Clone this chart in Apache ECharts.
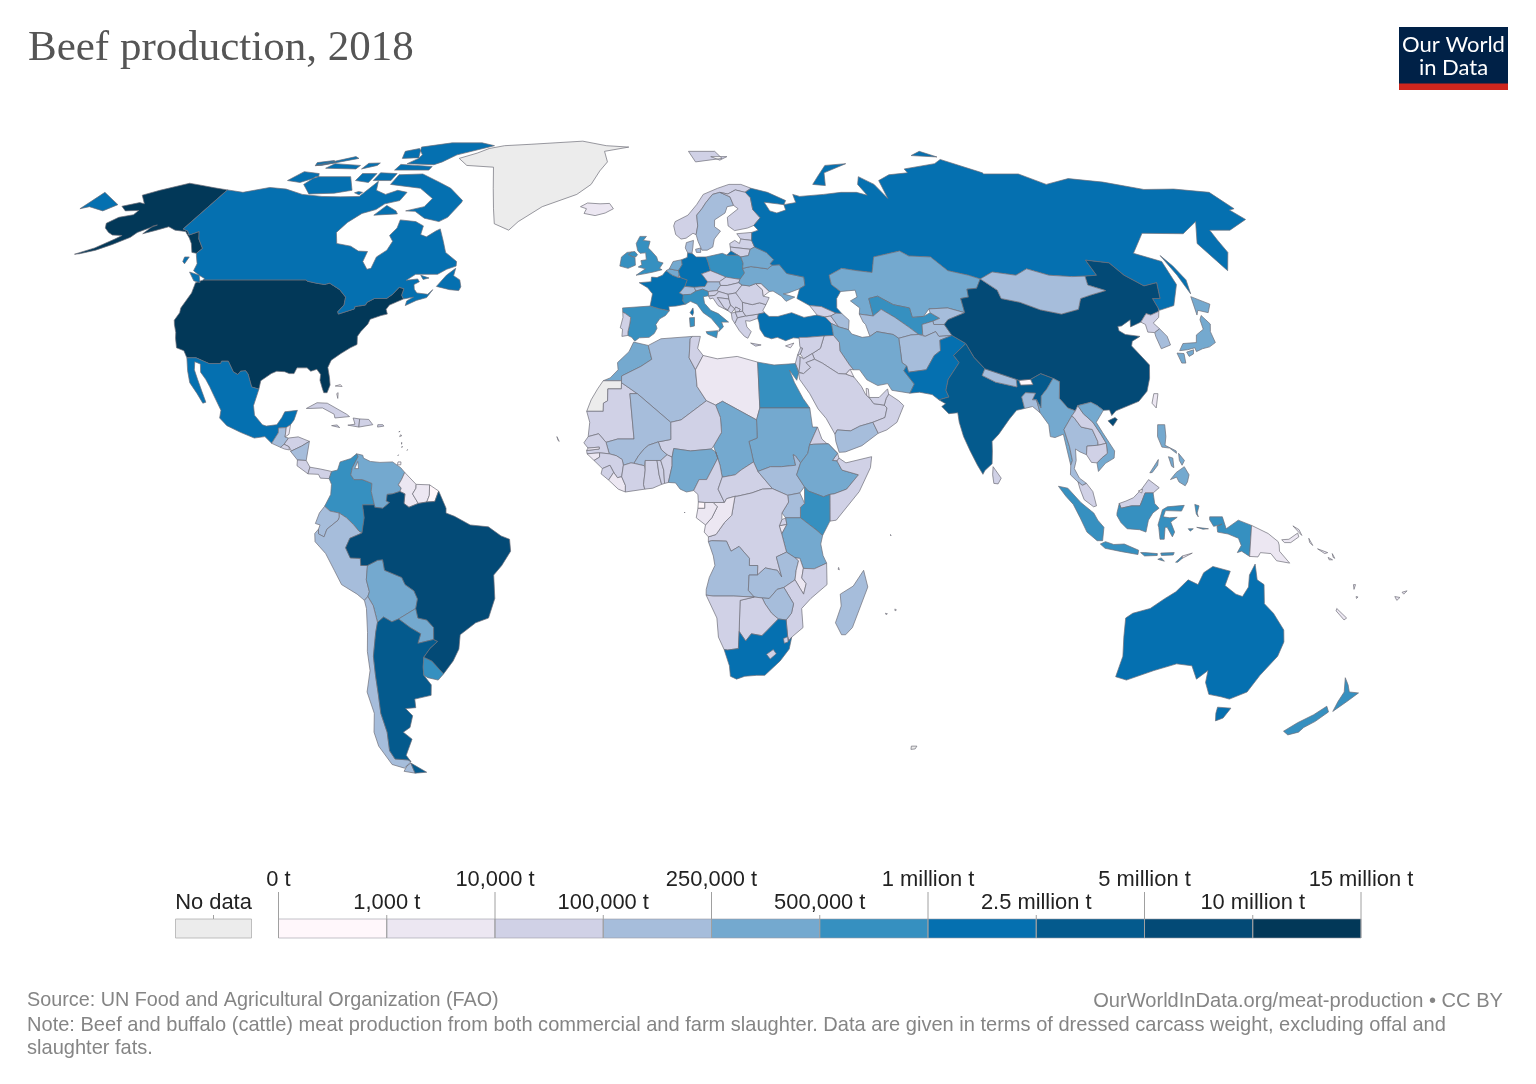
<!DOCTYPE html>
<html>
<head>
<meta charset="utf-8">
<title>Beef production, 2018</title>
<script src="https://cdn.jsdelivr.net/npm/echarts@6/dist/echarts.min.js"></script>
<style>
html, body { margin: 0; padding: 0; background: #fff; }
#main { width: 1536px; height: 1084px; }
</style>
</head>
<body>
<div id="main"></div>
<script>
// legend bins
const binEdges = [0, 1000, 10000, 100000, 250000, 500000, 1000000, 2500000, 5000000, 10000000, 15000000];
const binLabels = ['0 t', '1,000 t', '10,000 t', '100,000 t', '250,000 t', '500,000 t', '1 million t', '2.5 million t', '5 million t', '10 million t', '15 million t'];
const binColors = ['#fff7fb', '#ece7f2', '#d0d1e6', '#a6bddb', '#74a9cf', '#3690c0', '#0570b0', '#045a8d', '#034a76', '#023858'];

// tonnes per country
const americasNames = ['United States', 'Canada', 'Mexico', 'Guatemala', 'Belize', 'Honduras', 'El Salvador', 'Nicaragua', 'Costa Rica', 'Panama', 'Cuba', 'Haiti', 'Dominican Republic', 'Jamaica', 'Puerto Rico', 'Bahamas', 'Trinidad and Tobago', 'Lesser Antilles', 'Colombia', 'Venezuela', 'Guyana', 'Suriname', 'French Guiana', 'Ecuador', 'Peru', 'Bolivia', 'Paraguay', 'Chile', 'Argentina', 'Uruguay', 'Brazil'];
const americasTonnes = [12219000, 1300000, 1980000, 150000, 4000, 70000, 30000, 170000, 80000, 70000, 60000, 45000, 75000, 14000, 12000, 100, 700, 500, 790000, 460000, 2000, 2000, 300, 220000, 195000, 270000, 290000, 200000, 3050000, 550000, 9900000];

const europeNames = ['Iceland', 'Svalbard', 'Norway', 'Sweden', 'Finland', 'Denmark', 'Estonia', 'Latvia', 'Lithuania', 'Belarus', 'Ukraine', 'Moldova', 'Poland', 'Germany', 'Netherlands', 'Belgium', 'Luxembourg', 'France', 'United Kingdom', 'Ireland', 'Spain', 'Portugal', 'Italy', 'Switzerland', 'Austria', 'Czechia', 'Slovakia', 'Hungary', 'Slovenia', 'Croatia', 'Bosnia and Herzegovina', 'Serbia', 'Montenegro', 'Kosovo', 'Albania', 'North Macedonia', 'Greece', 'Bulgaria', 'Romania', 'Cyprus', 'Russia'];
const europeTonnes = [5000, 20000, 85000, 135000, 86000, 125000, 10000, 16000, 42000, 300000, 360000, 8000, 560000, 1100000, 440000, 270000, 10000, 1430000, 900000, 620000, 670000, 90000, 800000, 145000, 226000, 70000, 10000, 30000, 35000, 45000, 25000, 80000, 14000, 20000, 40000, 20000, 40000, 20000, 50000, 4000, 1610000];

const asiaNames = ['Turkey', 'Georgia', 'Armenia', 'Azerbaijan', 'Kazakhstan', 'Uzbekistan', 'Turkmenistan', 'Kyrgyzstan', 'Tajikistan', 'Afghanistan', 'Iran', 'Iraq', 'Syria', 'Lebanon', 'Israel', 'Jordan', 'Saudi Arabia', 'Yemen', 'Oman', 'United Arab Emirates', 'Qatar', 'Kuwait', 'Pakistan', 'India', 'Nepal', 'Bhutan', 'Bangladesh', 'Sri Lanka', 'China', 'Taiwan', 'Mongolia', 'North Korea', 'South Korea', 'Japan', 'Myanmar', 'Thailand', 'Laos', 'Vietnam', 'Cambodia', 'Malaysia', 'Brunei', 'Indonesia', 'East Timor', 'Philippines'];
const asiaTonnes = [1050000, 40000, 60000, 130000, 490000, 870000, 190000, 110000, 105000, 135000, 380000, 60000, 50000, 25000, 80000, 20000, 40000, 110000, 30000, 20000, 3000, 3000, 1800000, 2600000, 140000, 700, 200000, 30000, 6400000, 6000, 130000, 20000, 240000, 470000, 300000, 140000, 40000, 330000, 65000, 50000, 300, 520000, 1000, 260000];

const oceaniaNames = ['Australia', 'New Zealand', 'Papua New Guinea', 'Solomon Islands', 'Vanuatu', 'Fiji', 'New Caledonia'];
const oceaniaTonnes = [2270000, 700000, 3500, 1000, 4000, 3500, 3000];

const africaNames = ['Morocco', 'Algeria', 'Tunisia', 'Libya', 'Egypt', 'Mauritania', 'Mali', 'Niger', 'Chad', 'Sudan', 'South Sudan', 'Eritrea', 'Ethiopia', 'Djibouti', 'Somalia', 'Kenya', 'Uganda', 'Rwanda', 'Burundi', 'Tanzania', 'Senegal', 'Gambia', 'Guinea-Bissau', 'Guinea', 'Sierra Leone', 'Liberia', "Cote d'Ivoire", 'Burkina Faso', 'Ghana', 'Togo', 'Benin', 'Nigeria', 'Cameroon', 'Central African Republic', 'Gabon', 'Equatorial Guinea', 'Congo', 'DR Congo', 'Angola', 'Zambia', 'Malawi', 'Mozambique', 'Zimbabwe', 'Botswana', 'Namibia', 'South Africa', 'Lesotho', 'Eswatini', 'Madagascar', 'Small islands'];
const africaTonnes = [290000, 135000, 55000, 6000, 600000, 25000, 220000, 60000, 260000, 400000, 150000, 30000, 400000, 10000, 60000, 660000, 210000, 30000, 8000, 440000, 60000, 3500, 5000, 70000, 15000, 8000, 60000, 170000, 30000, 12000, 30000, 300000, 95000, 90000, 2000, 300, 5000, 15000, 110000, 190000, 9000, 20000, 110000, 40000, 30000, 1000000, 15000, 12000, 160000, 800];

// outlines in lon,lat; each string is one polygon, "|" starts a hole
const shapes = {
  'United States': [
    '-124.7,48.4;-123,49;-95.2,49;-94.6,48.7;-92,48.3;-89.6,48;-88.4,48.3;-84.9,46.9;-82.5,45.3;-82.1,43.6;-83.1,42.2;-82.7,41.7;-79,42.8;-79.1,43.3;-76.5,43.6;-76.3,44.2;-74.7,45;-71.5,45;-70.3,45.9;-69.2,47.4;-67.8,47.1;-67.8,45.7;-67,44.9;-68.5,44.3;-70.2,43.6;-70.7,42.7;-70,41.7;-71.5,41.4;-74,40.6;-74.2,39.6;-75.5,38;-76,37;-75.5,35.3;-77,34.6;-79,33.4;-81,32;-81.4,30.5;-80.5,28.4;-80,26.8;-80.4,25.2;-81.2,25.2;-81.8,26.2;-82.7,27.8;-82.8,29;-84,30.1;-85.4,29.7;-86.5,30.4;-89,30.4;-89.4,29.2;-90.6,29.2;-91.8,29.6;-93.8,29.7;-95,29.2;-97.2,27.7;-97.2,25.95;-99.1,26.4;-100.7,29.1;-101.5,29.8;-102.7,29.7;-103.2,29;-104.5,29.6;-106.5,31.8;-108.2,31.8;-108.2,31.3;-111.1,31.3;-114.8,32.5;-117.1,32.5;-118.5,34;-120.6,34.6;-121.9,36.6;-122.5,37.8;-123.8,39.5;-124.4,40.4;-124.1,42;-124.5,43;-124,46.2',
    '-141,69.6;-141,60.3;-139,59.8;-137.5,58.9;-135.5,59.7;-133.5,58;-130,55.9;-130.5,54.8;-132,55;-134.5,57;-136.5,58.2;-139.5,59.7;-143,60;-146,60.8;-148.5,60;-151.5,59.2;-151,61;-150,61.2;-153.5,59.5;-154,58.4;-157,56.8;-160,55.5;-163.5,54.7;-164.8,54.6;-161,56;-158,58;-157,58.8;-160,58.9;-162,59.5;-164.5,60.5;-166,61.6;-164.5,63;-161,63.6;-161,64.6;-165,64.5;-168,65.6;-164,66.5;-162,66.2;-166.5,68.3;-163,69.5;-156.7,71.3;-152,70.8;-146,70.1'
  ],
  'Canada': [
    '-141,69.6;-135,69;-128,70.2;-122,69.8;-115,68.5;-108,68;-102,67.9;-96,68;-94,71.8;-92,69.5;-88,68.5;-85,69.5;-81.5,69;-82,67;-86,66.2;-87.5,64.8;-91,63.9;-93.5,61.8;-94.7,59.5;-92.5,57;-88,56.4;-85,55.3;-82.3,55.2;-82.2,53;-80,51.3;-79,51.5;-79,54;-77,55.5;-76.7,57.5;-78.5,58.8;-77.5,60.5;-78,62.4;-73,62;-70,61;-69.5,59;-67.5,58.5;-65.5,59.8;-64.5,60.3;-62,57.5;-60,55;-56,53;-55.7,52;-58,51.3;-60,50.2;-66,50.2;-68,48.9;-65,49.2;-64.3,48.6;-65.5,48;-65,47;-64,46.2;-61,45.9;-60,46.9;-61,45.2;-63.5,44.6;-66,43.5;-66,44.5;-64.5,45.3;-67,44.9;-67.8,45.7;-67.8,47.1;-69.2,47.4;-70.3,45.9;-71.5,45;-74.7,45;-76.3,44.2;-76.5,43.6;-79.1,43.3;-79,42.8;-82.7,41.7;-83.1,42.2;-82.1,43.6;-82.5,45.3;-84.9,46.9;-88.4,48.3;-89.6,48;-92,48.3;-94.6,48.7;-95.2,49;-123,49;-123,49.3;-125,50;-127.5,51;-128,52.5;-130,54.3;-130.5,54.8;-130,55.9;-133.5,58;-135.5,59.7;-137.5,58.9;-139,59.8;-141,60.3',
    '-123.5,48.4;-125.5,48.8;-128.3,50.7;-125,50',
    '-59.3,47.6;-55.5,46.9;-53,46.7;-52.7,47.5;-53.5,49;-55.5,49.9;-55.6,51.5;-57.5,50',
    '-62,66.5;-64,63;-66,62;-71,62.8;-75,64.4;-78,64.5;-73,65.5;-72,67.5;-78,70;-89,71;-89,73.5;-81,73.7;-73,71.5;-68,70;-62,67',
    '-105,73;-117,73;-118,71;-113,68.6;-105,68.8;-100,69.5',
    '-125,72;-123,74.3;-117,73.8;-116,73;-120,71.5',
    '-90,76.5;-80,76.2;-78,77;-75,79;-64,82;-70,83;-82,83;-92,81.5;-88,78',
    '-80,74.7;-92,74.7;-92,76.3;-80,75.7',
    '-88,78.2;-94,78;-96,80;-92,81;-88,79',
    '-106,75;-117,75.2;-116,76.5;-106,76',
    '-80,63.8;-87,63.5;-85,65.8;-81,64.5',
    '-90,72;-96,72;-96,74;-90,73.8',
    '-97,71.5;-102,72;-102,73.8;-97,73.8',
    '-100,76;-104,75;-104,76.6;-100,76.7',
    '-110,78;-120,76;-122,76;-112,78.5',
    '-133,54;-131.7,54;-131.5,52.5;-132.5,53',
    '-116,76.8;-122,75.9;-123,76.8;-118,77.4',
    '-96,69;-97.5,69.2;-98.5,68.9;-96.5,68.4',
    '-64.5,50;-62,49.4;-63.5,49.1'
  ],
  'Greenland': ['-73,78;-68,76;-58,75.5;-54,70;-51,65;-49,61.5;-44,60;-42,62;-36,65.5;-26,68.5;-22,71;-20,74.5;-18,77;-20,80;-11,81.5;-20,82;-30,83.6;-50,82.5;-60,82;-65,81;-68,79.5'],
  'Mexico': ['-117.1,32.5;-114.8,32.5;-111.1,31.3;-108.2,31.3;-108.2,31.8;-106.5,31.8;-104.5,29.6;-103.2,29;-102.7,29.7;-101.5,29.8;-100.7,29.1;-99.1,26.4;-97.2,25.95;-97.8,22.5;-97.2,20.5;-95,18.5;-94,18.2;-91.5,18.5;-90.5,20;-90,21.2;-87,21.5;-87.5,19.5;-88.2,18.5;-89.15,17.9;-91,17.8;-90.9,16.8;-92.2,14.6;-94,16;-96.5,15.7;-100,16.9;-103.5,18.3;-105.5,19.9;-105.5,21.5;-108,24.8;-109.4,26.5;-110.8,28;-112.5,29.5;-113.2,31.2;-114.8,31.7;-114.2,30;-112.8,28;-111,25.5;-109.5,23.2;-110.2,23;-112,25;-114.5,27.3;-115.8,29.8'],
  'Guatemala': ['-92.2,14.6;-90.9,16.8;-91,17.8;-89.15,17.9;-89.15,15.9;-88.3,15.7;-89.2,14.4;-90,13.75'],
  'Belize': ['-89.15,17.9;-88.2,18.5;-88.3,16.5;-89.15,15.9'],
  'Honduras': ['-89.2,14.4;-88.3,15.7;-86,15.95;-83.2,15;-85,14;-87.3,13;-88,13.9'],
  'El Salvador': ['-90,13.75;-89.2,14.4;-88,13.9;-87.8,13.2;-89,13.4'],
  'Nicaragua': ['-83.2,15;-83.6,11;-85.7,11.1;-87.6,13;-87.3,13;-85,14'],
  'Costa Rica': ['-83.6,11;-82.6,9.6;-83,8.2;-85.7,9.9;-85.7,11.1'],
  'Panama': ['-82.6,9.6;-80,9.2;-77.4,8.7;-77.9,7.2;-80,7.3;-80.5,8.1;-83,8.2'],
  'Cuba': ['-84.9,21.9;-82.5,23.1;-80,23;-75,20.7;-74.2,20.2;-77.7,19.9;-78,20.7;-81,22;-84,21.9'],
  'Haiti': ['-74.4,18.4;-71.7,18;-71.7,19.7;-73.3,19.9;-72.7,18.6'],
  'Dominican Republic': ['-71.7,18;-68.4,18.5;-69.5,19.6;-71.7,19.7'],
  'Jamaica': ['-78.3,18.3;-76.3,17.9;-77,18.45'],
  'Puerto Rico': ['-67.2,18;-65.7,18.2;-66,18.5;-67.2,18.5'],
  'Bahamas': ['-78,25;-77.6,24;-77.7,25.2', '-77.5,26.9;-77,26.5;-78.7,26.6;-78.6,26.8'],
  'Trinidad and Tobago': ['-61.8,10.1;-61,10.1;-61,10.7;-61.7,10.7'],
  'Lesser Antilles': ['-61.7,16;-61.2,16.2;-61.5,16.4', '-61.1,14.4;-60.9,14.5;-61.1,14.8', '-59.7,13.1;-59.5,13.2;-59.6,13.3', '-61,13.7;-60.9,14;-61.1,13.9', '-62,17;-61.7,17.1;-61.8,17.3', '-61.8,12;-61.6,12.1;-61.7,12.2'],
  'Colombia': ['-77.4,8.7;-76,9;-75.5,10.7;-73,11.4;-71.7,12.4;-71.3,11.8;-72.5,9.5;-72.8,8;-72,7;-70,7;-67.7,6.2;-67.8,4.5;-67,1.7;-69.8,1.7;-69.4,-1;-70,-4.2;-70.7,-3.8;-72,-2.4;-73.6,-1;-75.3,0;-77.5,0.4;-78.8,1.4;-77.4,3.9;-77.3,6;-77.9,7.2'],
  'Venezuela': ['-71.3,11.8;-71.7,12.4;-70.2,12.1;-70,11.5;-68.3,10.8;-66,10.6;-63,10.7;-61,9.5;-60,8.5;-60.7,7;-61.4,5.9;-60.7,5.2;-61,4.5;-62.8,4;-64,3.9;-64.2,2.5;-63.4,2.2;-65,1;-66.9,1.2;-67,1.7;-67.8,4.5;-67.7,6.2;-70,7;-72,7;-72.8,8;-72.5,9.5|-71.9,9.3;-71,9.3;-71.3,10.8'],
  'Guyana': ['-60,8.5;-57.2,6;-57.2,5.2;-58,4;-56.6,2;-58.8,1.2;-60,2;-59.8,4;-61,4.5;-60.7,5.2;-61.4,5.9;-60.7,7'],
  'Suriname': ['-57.2,6;-54,5.9;-54,3.7;-54.6,2.3;-56.6,2;-58,4;-57.2,5.2'],
  'French Guiana': ['-54,5.9;-51.8,4.6;-52.7,2.4;-54.6,2.3;-54,3.7'],
  'Ecuador': ['-78.8,1.4;-77.5,0.4;-75.3,0;-75.3,-0.9;-75.6,-1.5;-78.3,-3.4;-79,-5;-80.3,-4.4;-80.3,-3.4;-79.9,-2.5;-81,-2.2;-80,0'],
  'Peru': ['-80.3,-3.4;-80.3,-4.4;-79,-5;-78.3,-3.4;-75.6,-1.5;-75.3,-0.9;-75.3,0;-73.6,-1;-72,-2.4;-70.7,-3.8;-70,-4.2;-72.9,-5.3;-74,-7.3;-73,-9.4;-70.6,-9.5;-70.6,-11;-69,-11;-69.5,-14;-69,-16.5;-69.5,-17.5;-70.4,-18.3;-72,-17;-75.5,-15;-77,-12;-78.8,-8.5;-81.2,-6;-81.2,-4.3'],
  'Bolivia': ['-69,-11;-66.5,-9.9;-65.3,-9.8;-65,-12;-61,-13.5;-60.3,-15;-58.3,-16.3;-57.6,-18;-58.2,-20;-62.6,-22.2;-64.3,-22.8;-66.2,-21.8;-67.8,-22.9;-68.4,-19.4;-69.5,-17.5;-69,-16.5;-69.5,-14'],
  'Paraguay': ['-58.2,-20;-57.9,-22;-55.8,-22.4;-54.3,-24;-54.6,-26.5;-58.6,-27.3;-57.6,-25.3;-60,-24;-62.6,-22.2'],
  'Chile': [
    '-70.4,-18.3;-69.5,-17.5;-68.4,-19.4;-67.8,-22.9;-68.5,-25;-70,-30;-70.5,-34;-71,-38;-71.8,-42;-71.8,-46;-73,-50;-72.5,-51.8;-69,-52;-68.4,-52.4;-71,-53.8;-74,-53;-75.5,-49;-75.3,-46;-73.5,-42;-73.7,-37.5;-71.6,-33;-71.3,-29;-70.5,-25;-70.1,-20',
    '-68.6,-52.7;-68.6,-54.9;-71.5,-54.5;-70,-53.3'
  ],
  'Argentina': [
    '-64.3,-22.8;-62.6,-22.2;-60,-24;-57.6,-25.3;-58.6,-27.3;-54.6,-26.5;-53.7,-26.9;-55.8,-28.4;-57.6,-30.2;-58.2,-32.3;-58.4,-34;-57,-36;-57.6,-38.2;-62,-39;-62.3,-40.8;-65,-41;-63.7,-42.5;-65.3,-45;-67.5,-46;-65.8,-47.5;-69,-51;-68.4,-52.4;-69,-52;-72.5,-51.8;-73,-50;-71.8,-46;-71.8,-42;-71,-38;-70.5,-34;-70,-30;-68.5,-25;-67.8,-22.9;-66.2,-21.8',
    '-68.6,-52.7;-65.2,-54.7;-68.6,-54.9'
  ],
  'Uruguay': ['-58.4,-34;-58.2,-32.3;-57.6,-30.2;-55.8,-31;-53.4,-33.7;-55,-35;-57.5,-34.5'],
  'Brazil': ['-51.8,4.6;-50,1;-50,0;-48,-0.7;-44.3,-2.5;-40,-2.9;-37,-4.8;-35,-5.5;-34.8,-8;-37,-11;-39,-13;-39,-17.9;-40.8,-22;-44,-23;-48,-25.5;-48.7,-28.5;-50.5,-31;-53.4,-33.7;-55.8,-31;-57.6,-30.2;-55.8,-28.4;-53.7,-26.9;-54.6,-26.5;-54.3,-24;-55.8,-22.4;-57.9,-22;-58.2,-20;-57.6,-18;-58.3,-16.3;-60.3,-15;-61,-13.5;-65,-12;-65.3,-9.8;-66.5,-9.9;-69,-11;-70.6,-11;-70.6,-9.5;-73,-9.4;-74,-7.3;-72.9,-5.3;-70,-4.2;-69.4,-1;-69.8,1.7;-67,1.7;-66.9,1.2;-65,1;-63.4,2.2;-64.2,2.5;-64,3.9;-62.8,4;-61,4.5;-59.8,4;-60,2;-58.8,1.2;-56.6,2;-54.6,2.3;-52.7,2.4'],

  'Iceland': ['-24,65.5;-22,66.4;-18,66.2;-15,66.3;-13.6,65;-16,64;-19,63.4;-22.5,63.9;-22,65'],
  'Svalbard': ['14,77;24,78;22,80;12,80', '20,78.5;26,78.5;23,77.5'],
  'United Kingdom': [
    '-5.7,50;-3.5,50.3;-1,50.7;1.4,51.2;0.7,51.5;1.7,52.7;0.3,53;-0.1,54;-1.6,55.3;-2.5,56;-2,57.5;-4,57.7;-3.1,58.6;-5,58.6;-6,57;-5.5,55.4;-4.8,54.8;-3.2,54.9;-3,53.4;-4.5,53.2;-4.2,52.3;-5.2,51.8;-3.2,51.4',
    '-5.5,54.5;-6.3,55.2;-7.3,55.1;-8.1,54.5;-7,54.1;-6,54'
  ],
  'Ireland': ['-6,52.2;-6.2,53.9;-7,54.1;-8.1,54.5;-7.3,55.1;-8.5,55;-10,54;-10.3,52;-8,51.5'],
  'France': [
    '2.5,51;1.5,50;0,49.5;-1.5,49.6;-1.6,48.6;-4.8,48.4;-2.5,47.3;-1.2,46;-1.8,43.4;0.7,42.8;3.2,42.4;3.1,43.3;5,43.4;7.5,43.8;6.8,44.5;7,45.8;6,46.2;7.5,47.6;8.2,49;6.4,49.5;5.8,49.5;4.2,50',
    '9.4,43;9.5,42;9.2,41.4;8.6,42'
  ],
  'Spain': ['-9,43;-1.8,43.4;0.7,42.8;3.2,42.4;2.2,41.4;0.7,40.7;-0.3,39.5;0,38.7;-0.7,37.6;-2,36.8;-4.5,36.7;-5.6,36;-6.4,36.8;-7.4,37.2;-7.4,38;-7,39.6;-6.8,41;-8.2,41.8;-8.9,42.1'],
  'Portugal': ['-8.9,42.1;-8.2,41.8;-6.8,41;-7,39.6;-7.4,38;-7.4,37.2;-8.9,37;-8.8,38.5;-9.4,38.8;-8.8,41'],
  'Belgium': ['2.5,51;3.4,51.4;5.9,51;6.1,50.2;5.8,49.5;4.2,50'],
  'Luxembourg': ['5.8,49.5;6.4,49.5;6.1,50.2'],
  'Netherlands': ['3.4,51.4;4.5,53;6.9,53.4;7,52.3;5.9,51'],
  'Germany': ['6.9,53.4;8.5,53.9;8.7,54.9;9.9,54.8;11,54;13.8,54;14.2,53;14.7,51;12.2,50.3;13.7,48.6;12.9,47.6;10,47.4;7.5,47.6;8.2,49;6.4,49.5;6.1,50.2;5.9,51;7,52.3'],
  'Switzerland': ['6,46.2;7.5,47.6;10,47.4;10.4,46.6;9,45.9;7,45.8'],
  'Austria': ['10,47.4;12.9,47.6;13.7,48.6;16.9,48.6;17.1,47.8;16,46.7;13.7,46.5;12.2,47;10.4,46.6'],
  'Italy': [
    '7.5,43.8;8.8,44.4;10.5,43.8;12,42;14,40.8;16,38.7;15.7,38;17,39;16.6,40;18.4,40;15.9,41.8;14,42.5;12.5,44;12.3,45.4;13.7,45.6;13.7,46.5;12.2,47;10.4,46.6;9,45.9;7,45.8;6.8,44.5',
    '12.5,38;15.5,38.2;15.1,36.7;12.8,37.5',
    '8.4,40.9;9.7,41;9.6,39.2;8.5,39'
  ],
  'Denmark': ['8.7,54.9;8.1,56;8.5,57.2;10.6,57.7;10.3,56.2;9.9,54.8', '11,55.7;12.5,56;12.4,55;11.2,55'],
  'Norway': ['5,61;5.5,59;7,58;8.5,58.2;10.6,59.3;11.5,59;12.2,61;12.2,63.5;14,65;15.5,66.5;18,68.5;20.5,69;23,68.6;25.7,69.6;28.5,69;31,70;28,71;24,71;20,70;15,68.5;12.5,66;9.5,63.5;5.5,62'],
  'Sweden': ['11.5,59;11.9,57.5;12.8,55.5;14.3,55.5;16,56.2;16.7,58;18.8,59.8;17.2,60.8;17.5,62.4;21,64;22,65.5;24.1,65.8;23.5,67.9;20.5,69;18,68.5;15.5,66.5;14,65;12.2,63.5;12.2,61'],
  'Finland': ['24.1,65.8;25.3,65;21.5,63;21.3,61;23,59.9;27,60.5;29,61.1;31.5,62.9;29.8,64.8;30,67.7;28.8,69;28.5,69;25.7,69.6;23,68.6;20.5,69;23.5,67.9'],
  'Estonia': ['23.5,59.2;28,59.5;27.5,57.7;24.4,58'],
  'Latvia': ['21,57;21,56.2;26.6,55.7;28,56.2;27.5,57.7;24.4,58;23.8,57;22.6,57.7'],
  'Lithuania': ['21,56.2;21,55.3;22.8,54.4;23.6,54;25.8,54.3;26.6,55.7'],
  'Poland': ['14.2,53;13.8,54;18.5,54.8;19.7,54.4;22.8,54.4;23.6,54;24,52.6;23.6,51.5;24,50.5;22.7,49.2;19,49.4;16.5,50.4;14.7,51'],
  'Czechia': ['12.2,50.3;14.7,51;16.5,50.4;18.8,49.6;16.9,48.6;13.7,48.6'],
  'Slovakia': ['16.9,48.6;18.8,49.6;19,49.4;22.5,49.1;22.1,48.4;18.9,47.8;17.1,47.8'],
  'Hungary': ['16,46.7;17.1,47.8;18.9,47.8;22.1,48.4;22.9,47.9;21,46.2;18.9,45.9;16.5,46.5'],
  'Slovenia': ['13.7,45.6;13.7,46.5;16,46.7;16.5,46.5;15.5,45.7;13.7,45.5'],
  'Croatia': ['13.7,45.5;15.5,45.7;16.5,46.5;18.9,45.9;19,44.9;16,45.2;17.6,43;18.5,42.4;16,43.5;14.8,45.1;14,44.9'],
  'Bosnia and Herzegovina': ['16,45.2;19,44.9;19.3,43.6;18.5,42.6;17.6,43'],
  'Serbia': ['18.9,45.9;21,46.2;22.5,44.6;22.4,43;22.3,42.3;21.3,42.2;21.7,42.7;20.6,43.2;20.3,42.8;19.3,43.6;19,44.9'],
  'Montenegro': ['18.5,42.6;19.3,43.6;20.3,42.8;19.3,41.9;18.5,42.4'],
  'Kosovo': ['20.3,42.8;20.6,43.2;21.7,42.7;21.3,42.2;20.4,42.1'],
  'Albania': ['19.3,41.9;20.4,42.1;20.8,40.9;20,39.7;19.4,40.6'],
  'North Macedonia': ['20.4,42.1;21.3,42.2;22.3,42.3;23,41.3;20.8,40.9'],
  'Greece': ['20,39.7;20.8,40.9;23,41.3;26.3,41.7;26,40.8;23.9,40.2;22.8,40.3;23,39;24,38;23,36.6;22.2,37;21,38.2', '23.6,35.6;26.2,35.2;24.8,34.95'],
  'Bulgaria': ['22.5,44.2;25,43.7;27,44.1;28.6,43.7;27.6,42.5;28,42;26.3,41.7;23,41.3;22.3,42.3;22.4,43'],
  'Romania': ['22.9,47.9;24.9,47.7;26.6,48.2;28.2,46.9;28.2,45.5;29.7,45.2;28.6,43.7;27,44.1;25,43.7;22.5,44.2;21,46.2'],
  'Moldova': ['26.6,48.2;28.1,48.2;30,46.5;28.2,45.5;28.2,46.9'],
  'Ukraine': ['23.6,51.5;26,51.9;30.5,51.4;32,52.2;34,52.3;35.5,50.4;40,49.6;39.8,47.8;38.2,47.1;35,46.2;33.6,46;36.5,45.3;34,44.4;33,45.5;31,46.6;30,46.5;28.1,48.2;26.6,48.2;24.9,47.7;22.9,47.9;22.1,48.4;22.5,49.1;22.7,49.2;24,50.5'],
  'Belarus': ['23.6,54;25.8,54.3;26.6,55.7;28,56.2;31,55;32.7,53.4;31.5,52.5;32,52.2;30.5,51.4;26,51.9;23.6,51.5;24,52.6'],
  'Cyprus': ['32.3,35;34.5,35.6;33.5,34.6'],
  'Russia': [
    '28,56.2;27.5,57.7;28,59.5;30,60;29,61.1;31.5,62.9;29.8,64.8;30,67.7;28.8,69;31,70;36,69;41,67;40,66;38,66.2;34,66.6;35,64.5;37,64;40,64.7;40,66;44,66.5;44,68.5;46,68;54,68.5;60,69;65,69;68,68.3;67,71;69,73;72.5,71;74,67.5;75,72;80,73.5;87,74;87,75;100,76.5;104,77.7;113,74;113,73.7;125,73.7;130,71;140,72.5;150,71.6;160,69.7;170,69.8;180,69;180,65;178,64.7;179,62.5;170,60;164,60;163,57.8;162,55;157,51;156,57;163,62;155,59.2;143,59.3;135,54.8;141,53;140,48;135.5,43.5;131,42.5;130.7,42.3;131,43;131,45;133,45;135,48.4;131,47.7;127.5,50;126,52.7;120,53.3;120,50;116.7,49.8;113,49.7;107,50;102,51.4;98,50;92,50.7;87.8,49.2;85,50;80,51;77,54;71,54.2;69,55.3;61,54;59,50.6;55,51;51,51.5;47,50;47,48;49,46.5;47.5,45;47,43;48,41.8;46.5,41.9;43,43.3;40,43.5;37,45;38.2,47.1;39.8,47.8;40,49.6;35.5,50.4;34,52.3;32,52.2;31.5,52.5;32.7,53.4;31,55',
    '-180,69;-170,66;-172,64.5;-178,65.5;-180,65',
    '142,54.3;143,52;143.5,49;142,46;142,50',
    '52,71;56,70.7;58,74;68,76.5;60,76;55,73',
    '95,78.8;104,78.4;100,80',
    '19.7,54.4;22.8,54.4;21,55.3'
  ],

  'Turkey': ['26.3,41.7;28,42;29,41.2;31.3,41.2;35,42;38,41;41.5,41.5;43.5,41.1;44.8,39.7;44.8,37.2;42.4,37.1;38,36.8;36.2,36.6;36,36.8;34.5,36.7;32.5,36.1;30.5,36.8;29,36.5;27.3,37;26.3,38.5;26.2,40;26,40.8'],
  'Georgia': ['40,43.5;43,43.3;46.5,41.9;45,41.3;43.5,41.1;41.5,41.5'],
  'Armenia': ['43.5,41.1;45,41.3;46.5,39;44.8,39.7'],
  'Azerbaijan': ['45,41.3;46.5,41.9;48,41.8;49.5,40.4;48.9,38.4;46.5,39'],
  'Kazakhstan': ['47,48;47,50;51,51.5;55,51;59,50.6;61,54;69,55.3;71,54.2;77,54;80,51;85,50;87.8,49.2;85.7,47.2;83,47;82.5,45.3;80.3,45;80,42;76,43;71,42.8;69,41.2;66,41;66,43;62,43.7;58.5,45.5;56,45;56,41.3;52.5,41.7;53,43;51,44.5;53,45.3;53,46.8;49,46.5'],
  'Uzbekistan': ['56,45;58.5,45.5;62,43.7;66,43;66,41;69,41.2;71,42;73,40.8;71,40.2;68,39.5;67.5,37.3;66.5,37.4;64.5,38.9;61.5,41;58.5,42.7;56,41.3'],
  'Turkmenistan': ['52.5,41.7;56,41.3;58.5,42.7;61.5,41;64.5,38.9;66.5,37.4;64.5,37.3;61.2,36.6;60,37.4;56,38;54,37;53.5,39.5;53,40'],
  'Kyrgyzstan': ['71,42.8;76,43;80,42;75,40.5;73.7,39.5;71,39.5;71,40.2;73,40.8;71,42'],
  'Tajikistan': ['67.5,37.3;68,39.5;71,40.2;71,39.5;73.7,39.5;74.9,37.2;71.5,37;71,38;68,37'],
  'Afghanistan': ['60.8,31.5;61,34.5;61.2,36.6;64.5,37.3;66.5,37.4;68,37;71,38;71.5,37;74.9,37.2;71.5,36.2;71,34;69.2,33;66.5,30;62,29.5;61.8,30.8'],
  'Iran': ['44.8,39.7;46.5,39;48.9,38.4;49.5,37.5;52,36.8;54,37;56,38;60,37.4;61.2,36.6;61,34.5;60.8,31.5;61.8,30.8;60.9,29.8;63,27;61.6,25.1;57.3,25.7;56.5,27.1;54,26.7;51.5,27.9;50,30;48.5,30;47.7,31;45.8,34;46,35.7;44.8,37.2'],
  'Iraq': ['42.4,37.1;44.8,37.2;46,35.7;45.8,34;47.7,31;48.5,30;47.7,30.1;46.5,29.1;44.7,29.2;41,31.4;39.2,32.2;38.8,33.4;41,34.5'],
  'Syria': ['36,36.8;36.2,36.6;38,36.8;42.4,37.1;41,34.5;38.8,33.4;36.5,32.3;35.8,33.3;36.5,34.5;36,34.6;35.9,35'],
  'Lebanon': ['35.1,33.1;35.8,33.3;36.5,34.5;36,34.6'],
  'Israel': ['34.3,31.3;35,29.5;35.5,31.5;35.7,32.7;35.1,33.1'],
  'Jordan': ['35,29.5;36.1,29.2;38,30.5;37,31.5;39.2,32.2;38.8,33.4;36.5,32.3;35.7,32.7;35.5,31.5'],
  'Saudi Arabia': ['36.1,29.2;38,30.5;37,31.5;39.2,32.2;41,31.4;44.7,29.2;46.5,29.1;48.4,28.5;50,26.5;50.8,24.8;51.6,24.2;52.6,22.9;55.1,22.6;55.7,22;55,20;52,19;48.8,18.2;46.5,17.2;43.3,17.4;42.7,16.5;40.8,19.8;39,21.8;37.2,25;35,28;34.9,29.4'],
  'Yemen': ['42.7,16.5;43.3,17.4;46.5,17.2;48.8,18.2;52,19;53.1,16.7;49,14.1;45,12.8;43.5,12.7;42.8,15'],
  'Oman': ['56.4,24.9;58.7,23.5;59.8,22.5;57.8,19;55.2,17.4;53.1,16.7;52,19;55,20;55.7,22;55.1,22.6;55.7,24'],
  'United Arab Emirates': ['51.6,24.2;54,24.2;56.3,26;56.4,24.9;55.7,24;55.1,22.6;52.6,22.9'],
  'Qatar': ['51,24.6;51.6,24.2;51.6,26;51.1,26.1'],
  'Kuwait': ['47.7,30.1;48.4,28.5;46.5,29.1'],
  'Pakistan': ['61.6,25.1;63,27;60.9,29.8;61.8,30.8;62,29.5;66.5,30;69.2,33;71,34;71.5,36.2;74.9,37.2;77.8,35.5;74,33;75,31.5;71.5,28;70.5,25.7;71,24.3;68.5,23.7;67,24.8;64,25.3'],
  'India': ['68.5,23.7;71,24.3;70.5,25.7;71.5,28;75,31.5;74,33;77.8,35.5;79,32.6;81,30.2;80,28.8;83,27.4;88,26.4;88.2,28;88.8,27.8;89,26.8;92,26.9;91.7,28;94.5,29.2;97.3,28.2;95.2,26;93.5,24.5;93,22;92.2,23.7;91.2,23.7;92.2,25.1;89.8,25.2;88.7,24.3;89,21.9;87,21.5;85,19.7;82,16.5;80.2,15;80.1,13;79.8,10.3;78,8.9;77.5,8.1;76.3,10;74.8,13;73.5,16;72.8,19;72.7,21;70.5,20.8;69,22.3;70,22.9'],
  'Nepal': ['80,28.8;81,30.2;88.2,28;88,26.4;83,27.4'],
  'Bhutan': ['89,26.8;88.8,27.8;91.7,28;92,26.9'],
  'Bangladesh': ['88.7,24.3;89.8,25.2;92.2,25.1;91.2,23.7;92.2,23.7;92.6,21;91,22.3;89,21.9'],
  'Sri Lanka': ['80,9.7;81.8,7.3;81,6.1;80,6.2;79.8,8'],
  'China': [
    '73.7,39.5;75,40.5;80,42;80.3,45;82.5,45.3;83,47;85.7,47.2;87.8,49.2;91,46.8;91,45;95.5,44.2;100,42.6;105,41.7;110,42.7;112,45;115,45.7;119.9,46.7;116,47.9;116.7,49.8;120,50;120,53.3;126,52.7;127.5,50;131,47.7;135,48.4;133,45;131,45;131,43;130.7,42.3;128,41.5;127,41.8;124.4,40;121.2,39;122,40.5;119,39.2;118,39.1;117.8,38.2;119,37.4;122.5,37;120,36;119.3,35;121,32.5;122,31;121,28.2;119.5,25.5;117,23.4;114,22.4;111,21.4;109.8,20.4;109.5,21.6;108,21.5;106.7,22.5;105.3,23.2;102,22.5;101.2,21.4;99.5,22;97.8,24;98.7,27.5;97.3,28.2;94.5,29.2;91.7,28;88.8,27.8;88.2,28;81,30.2;79,32.6;77.8,35.5;74.9,37.2',
    '108.7,19.3;110.5,20;111,19.6;109.7,18.2'
  ],
  'Taiwan': ['121,25;122,25;120.9,22;120.1,23'],
  'Mongolia': ['87.8,49.2;92,50.7;98,50;102,51.4;107,50;113,49.7;116.7,49.8;116,47.9;119.9,46.7;115,45.7;112,45;110,42.7;105,41.7;100,42.6;95.5,44.2;91,45;91,46.8'],
  'North Korea': ['124.4,40;127,41.8;128,41.5;130.7,42.3;129.7,41;127.5,39.8;128.4,38.6;126.7,37.8;125,37.9;125.3,39.5'],
  'South Korea': ['126.7,37.8;128.4,38.6;129.4,37;129.2,35.2;126.5,34.4;126.5,37'],
  'Japan': [
    '130.9,34;132.5,35.5;136,35.7;137,37.3;139.5,38.5;140,40.5;141,41.4;142,39.6;141,38;140.8,35.7;138.8,34.8;136.8,34.4;135,33.8;135,34.6;133,34.2',
    '140,41.5;141.5,45.4;145.2,43.8;143.3,42;141,42.5',
    '130,33.5;131.7,33.4;131.2,31.4;130.2,31.4',
    '132.5,33.7;134.5,34.2;134,33.3;132.7,32.8'
  ],
  'Myanmar': ['92.6,21;92.2,23.7;93,22;93.5,24.5;95.2,26;97.3,28.2;98.7,27.5;97.8,24;99.5,22;101.2,21.4;100.1,20.3;97.8,17.5;98.6,14;99,11;98.5,10;98,13;97.5,16.5;95.4,15.8;94.3,16;94.3,18.5'],
  'Thailand': ['97.8,17.5;100.1,20.3;100.6,20;102,18;104.6,17.5;105.5,15;105.5,14.2;102.8,14;102.5,12.2;101,12.8;100,13.4;99.9,11;99.3,9.3;100.4,7.3;102,6.2;101,5.8;100,6.5;98.3,8;98.5,10;99,11;98.6,14'],
  'Laos': ['101.2,21.4;102,22.5;103,20.8;105,19;106.5,16.5;107.5,14.6;105.5,14.2;105.5,15;104.6,17.5;102,18;100.6,20;100.1,20.3'],
  'Vietnam': ['102,22.5;105.3,23.2;106.7,22.5;108,21.5;105.8,19;107,16.8;109.3,13;109,11.5;106.8,10.4;105,8.7;104.8,10.5;106,11.5;107.5,12.5;107.5,14.6;106.5,16.5;105,19;103,20.8'],
  'Cambodia': ['102.5,12.2;102.8,14;105.5,14.2;107.5,14.6;107.5,12.5;106,11.5;104.8,10.5;103.5,10.6'],
  'Malaysia': [
    '100,6.5;101,5.8;102,6.2;103.4,4.5;104.2,1.5;103.5,1.3;101.3,2.8;100.4,5',
    '109.6,2;111.2,2.5;113,3.2;115,5;116.8,7;119.2,5.3;117.7,4.2;115.8,4.2;115,2.5;114.5,1.5;112.5,1.5;110,1'
  ],
  'Brunei': ['114.2,4.6;115.2,5;115,4.2'],
  'Indonesia': [
    '109,0;109.6,2;110,1;112.5,1.5;114.5,1.5;115,2.5;115.8,4.2;117.7,4.2;118,2;119,1;117.5,0;116.5,-1.5;116,-4;114.5,-3.5;111.5,-3.3;110,-2;109,-0.5',
    '95.3,5.6;97.5,5.2;100.5,2.2;103.5,0;104.5,-1.5;106,-3;105.8,-5.8;104.5,-5.8;102,-4;100.3,-1;98.7,1.8;97,3.5',
    '105.3,-6.5;106.5,-6;108.5,-6.6;111,-6.5;114.5,-7.8;114.4,-8.7;110.5,-8.1;106.5,-7.4',
    '119.4,-5.5;119,-3;118.8,-2.5;119.8,0.7;121,1.3;125,1.6;124.3,0.4;120.5,0.5;120,-0.8;121.5,-1;123.3,-0.9;121.8,-1.9;122.8,-4;122.3,-5;121,-3;120.5,-3;120.4,-5.5',
    '115,-8.3;116,-8.3;119,-8.5;119,-8.9;116,-9',
    '119.8,-8.4;123,-8.3;122.8,-8.8;120,-8.9',
    '123.5,-10.3;125,-9;125,-9.5;124,-10.3',
    '119.2,-9.7;120.8,-10.1;120,-9.4',
    '127.5,1.8;128.5,1.5;128,0;128.3,-0.8;127.8,-0.2',
    '128,-3;130.8,-3.3;129.5,-3.4',
    '126,-3.3;127.2,-3.3;126.5,-3.8',
    '131,-0.8;134,-0.8;135,-3.3;137.8,-1.5;141,-2.6;141,-9.1;139,-8;138,-8.3;138.8,-6.8;138,-5.3;135.5,-4.4;133,-4;132.8,-2.8;134,-2.3;133.5,-2.5;132,-2.8;131,-1.4'
  ],
  'East Timor': ['125,-9;127.3,-8.4;125,-9.5'],
  'Philippines': [
    '120.5,18.5;122.2,18.5;122,16;121.5,14.2;124,13;124,12.5;122.5,13.6;120.7,13.8;120,16',
    '122,7;123.5,8.5;125.5,9.7;126.5,8;126,6.5;125.4,5.7;124,6.5;123.5,7.5',
    '122,11.8;123,11.5;123,9.5;122.5,9.8',
    '124.5,12.5;125.7,11;125,10;124.5,11',
    '117.2,8.4;119.5,11.2;119.2,10;117.8,8.5'
  ],

  'Australia': [
    '113.5,-22;114,-26;115,-30;115,-34.3;118,-35;124,-33;129,-31.6;133,-32;135.5,-34.8;137.5,-33;138.2,-35.5;140.6,-38;144,-38.5;146.5,-39;150,-37.5;151,-34;153.2,-30;153.5,-27;152.5,-24.5;149,-21;146.3,-19;145.3,-15;143.5,-14;142.5,-10.7;141.5,-13;141.7,-15.5;140.7,-17.5;139,-17;136,-15.2;136.8,-12.2;132.5,-11.2;130.5,-12.5;129.5,-15;127,-14;124.5,-16.5;122,-18;119,-20;115,-21',
    '144.7,-40.7;148.3,-40.9;148,-43;146.5,-43.6;145.3,-42'
  ],
  'New Zealand': [
    '172.7,-34.5;174.5,-36;176,-37.5;178.5,-37.7;177,-39.5;175.3,-41.6;174.7,-39.5;174.7,-37.5',
    '172.7,-40.5;174.3,-41.7;172.8,-43.7;171,-45;170.7,-46;168.5,-46.6;166.5,-45.8;168.4,-44;171,-42.3'
  ],
  'Papua New Guinea': [
    '141,-2.6;145,-4.3;147.5,-6;147.8,-6.7;148,-8;150.7,-10.5;147.5,-10;146,-8.5;143.5,-8.3;143,-9.2;141,-9.1',
    '148.3,-5.6;150,-5.5;152,-4.2;152.3,-5;150.5,-6.2;149,-6.2',
    '150.8,-2.7;152.3,-3.5;153,-4.7;152,-3.8',
    '154.7,-5.3;155.8,-6.8;155,-6.2'
  ],
  'Solomon Islands': ['157,-7.5;159.5,-8.3;158.8,-8.5', '159.7,-9.3;160.8,-9.8;160,-9.8', '160.6,-8.5;161.3,-9.5;160.9,-9.3'],
  'Vanuatu': ['166.7,-15;167.2,-15;167.1,-16', '168,-17.5;168.5,-17.6;168.2,-17.9'],
  'Fiji': ['177.3,-17.5;178.6,-17.7;178,-18.3', '178.8,-16.6;179.9,-16.3;179.3,-17'],
  'New Caledonia': ['164,-20;167,-22;166.5,-22.4;164,-20.5'],
  'French Southern Lands': ['69,-49;70.5,-49;70.3,-49.6;69.2,-49.7'],

  'Morocco': ['-5.9,35.8;-2.2,35.1;-1.3,32.2;-4,30.7;-8.7,28.7;-8.7,27.7;-13.2,27.7;-11.5,28.3;-9.6,30;-9.8,31.5;-7,33.8'],
  'Western Sahara': ['-13.2,27.7;-8.7,27.7;-8.7,27.3;-8.7,26;-12,26;-12,23.5;-13,23;-13,21.3;-17,21.3;-16,23.7;-14.5,26'],
  'Mauritania': ['-17,21.3;-13,21.3;-13,23;-12,23.5;-12,26;-8.7,26;-8.7,27.3;-4.8,25;-6.6,25;-5.5,15.5;-9.4,15.5;-12.2,14.8;-14,16.6;-16.5,16;-16.2,19'],
  'Algeria': ['-2.2,35.1;1,36.5;9,37;8.4,36.5;8,32.5;9.5,30;9.8,26.5;12,23.5;5.8,19.5;3.3,19;-4.8,25;-8.7,27.3;-8.7,28.7;-4,30.7;-1.3,32.2'],
  'Tunisia': ['9,37;11,37;10.2,34.5;11.5,33;9.5,30;8,32.5;8.4,36.5'],
  'Libya': ['11.5,33;15,32.3;20,32.8;25,31.6;24.9,22;24,19.5;15.9,23.4;14.2,22.6;12,23.5;9.8,26.5;9.5,30'],
  'Egypt': ['25,31.6;29,31;34.3,31.3;34.9,29.4;34.3,27.8;32.7,29.9;33.7,27.3;35.5,24;37,22;24.9,22'],
  'Sudan': ['24.9,22;37,22;37.4,18;38.6,18;36.5,14.3;36,12.5;34.2,10.5;33,12;32.5,12.2;33,10;29.6,9.7;27,9.7;24,8.7;23,10.7;22.5,13;22,15;24,15.7;24,19.5'],
  'Chad': ['14.2,22.6;15.9,23.4;24,19.5;24,15.7;22,15;22.5,13;23,10.7;20,9;18.6,8;15.5,7.5;15,10;14,12.8;13.5,14;15.5,16.9;15.3,20'],
  'Niger': ['3.3,19;5.8,19.5;12,23.5;14.2,22.6;15.3,20;15.5,16.9;13.5,14;13,13.4;8,13;4,13.5;3.6,11.7;2.4,12.2;1,13.3;0.3,14.9;3.3,15.4'],
  'Mali': ['-12.2,14.8;-9.4,15.5;-5.5,15.5;-6.6,25;-4.8,25;3.3,19;3.3,15.4;0.3,14.9;-2,14.2;-3,13.5;-4.4,12;-5.5,10.4;-6.2,10.5;-8,10;-8.3,11.2;-9.7,12;-11.4,12.4'],
  'Burkina Faso': ['-5.5,10.4;-4.4,12;-3,13.5;-2,14.2;0.3,14.9;1,13.3;2.4,12.2;0.9,11;0,11;-2.8,11;-3,9.9'],
  'Senegal': ['-17.5,14.7;-16.5,16;-14,16.6;-12.2,14.8;-11.4,12.4;-13.7,12.6;-16.7,12.4;-16.8,13.1;-13.8,13.4;-13.8,13.8;-16.5,13.6'],
  'Gambia': ['-16.8,13.1;-16.5,13.6;-13.8,13.8;-13.8,13.4'],
  'Guinea-Bissau': ['-16.7,12.4;-13.7,12.6;-13.7,11.7;-15,11'],
  'Guinea': ['-13.7,12.6;-11.4,12.4;-9.7,12;-8.3,11.2;-8,10;-8.4,7.6;-9.4,7.4;-10.3,8.5;-11.2,10;-13,9.3;-15,11;-13.7,11.7'],
  'Sierra Leone': ['-13,9.3;-11.2,10;-10.3,8.5;-11.5,6.9;-13.3,8.2'],
  'Liberia': ['-11.5,6.9;-10.3,8.5;-9.4,7.4;-8.4,7.6;-7.5,5.8;-7.5,4.4;-9.2,5'],
  "Cote d'Ivoire": ['-7.5,4.4;-7.5,5.8;-8.4,7.6;-8,10;-6.2,10.5;-5.5,10.4;-3,9.9;-2.8,9;-3.2,6;-2.9,5'],
  'Ghana': ['-2.9,5;-3.2,6;-2.8,9;-2.8,11;0,11;0.5,8;1.1,6;-1,5.2'],
  'Togo': ['1.1,6;0.5,8;0,11;0.9,11;1.6,9;1.8,6.2'],
  'Benin': ['1.8,6.2;1.6,9;0.9,11;2.4,12.2;3.6,11.7;3.6,9.9;2.7,6.4'],
  'Nigeria': ['2.7,6.4;3.6,9.9;3.6,11.7;4,13.5;8,13;13,13.4;14,12.8;14.5,11.5;13,9;11.8,7;10,7;8.7,4.7;7,4.4;5.5,5;4.4,6.3'],
  'Cameroon': ['8.7,4.7;10,7;11.8,7;13,9;14.5,11.5;14,12.8;15,10;15.5,7.5;14.5,5;16,2.2;13.3,2.2;11.3,2.2;9.8,2.3;9.7,3.9'],
  'Central African Republic': ['15.5,7.5;18.6,8;20,9;23,10.7;24,8.7;27.4,5.1;25,5;22.5,4.2;19,3.5;18.5,3.5;16.5,3;16,2.2;14.5,5'],
  'South Sudan': ['24,8.7;27,9.7;29.6,9.7;33,10;32.5,12.2;33,12;34.2,10.5;33.2,8;35,5.5;33.9,4.2;31,3.7;27.4,5.1'],
  'Eritrea': ['36.5,14.3;38.6,18;39.5,15.5;43.1,12.5;41,14.5;37.5,14.4'],
  'Djibouti': ['41.8,11;43.1,12.5;43.4,11.5;42.9,10.9'],
  'Ethiopia': ['36,12.5;36.5,14.3;37.5,14.4;41,14.5;43.1,12.5;41.8,11;42.9,10.9;44,9;47.9,8;45,5;42,4;41,3.9;39.5,3.4;35.9,4.6;35,5.5;33.2,8;34.2,10.5'],
  'Somalia': ['42.9,10.9;43.4,11.5;45,10.5;51.2,11.8;50.8,9.5;48,4.5;42.5,-1.5;41,-1.7;41,3.9;42,4;45,5;47.9,8;44,9'],
  'Kenya': ['35,5.5;35.9,4.6;39.5,3.4;41,3.9;41,-1.7;39.3,-4.7;37.7,-3.5;34,-1;34,1.2;35,2'],
  'Uganda': ['31,3.7;33.9,4.2;35,2;34,1.2;34,-1;30.5,-1;29.6,0;31.2,2.3'],
  'Rwanda': ['30.5,-1;30.8,-2.4;29,-2.7;29.6,-1.4'],
  'Burundi': ['29,-2.7;30.8,-2.4;29.6,-4.4'],
  'Tanzania': ['30.5,-1;34,-1;37.7,-3.5;39.3,-4.7;38.9,-6.5;39.5,-8.9;40.4,-10.5;37.5,-11.7;34.9,-11.6;34,-9.5;32.9,-9.4;30.8,-8.2;29.6,-4.4;30.8,-2.4'],
  'DR Congo': ['12.2,-6;13,-5.8;16.5,-5.9;17.6,-8;19.5,-7;22,-9.5;22,-11;24,-11;24,-13;25.8,-11.5;27.4,-11.8;28.7,-12;29.8,-13.4;28.4,-9.2;30.8,-8.2;29.6,-4.4;29,-2.7;29.6,-1.4;29.6,0;31.2,2.3;31,3.7;27.4,5.1;25,5;22.5,4.2;19,3.5;18.5,3.5;17.7,-0.5;16,-2;14,-4.5;12.2,-5'],
  'Congo': ['11.2,-4;12.2,-5;14,-4.5;16,-2;17.7,-0.5;18.5,3.5;16.5,3;16,2.2;13.3,2.2;14.3,1.3;13,-1;11.5,-2.5'],
  'Gabon': ['9.3,-1;11.5,-2.5;13,-1;14.3,1.3;13.3,2.2;11.3,2.2;11.3,1;9.7,1'],
  'Equatorial Guinea': ['9.8,2.3;11.3,2.2;11.3,1;9.7,1'],
  'Angola': ['11.8,-17.2;13.5,-17.4;18.4,-17.4;23.4,-17.6;21.9,-16.2;22,-13;24,-13;24,-11;22,-11;22,-9.5;19.5,-7;17.6,-8;16.5,-5.9;13,-5.8;12.2,-6;13.4,-9;13.8,-11;12.5,-13.5;11.8,-16'],
  'Zambia': ['22,-13;21.9,-16.2;23.4,-17.6;25.3,-17.8;27,-17.9;28.8,-16;30.4,-15.6;33,-14;33.2,-12;33.7,-10;32.9,-9.4;30.8,-8.2;28.4,-9.2;29.8,-13.4;28.7,-12;27.4,-11.8;25.8,-11.5;24,-13'],
  'Malawi': ['32.9,-9.4;34,-9.5;34.9,-11.6;34.6,-13.6;35.7,-14.8;35.2,-17;34.3,-15.8;33,-14;33.2,-12;33.7,-10'],
  'Mozambique': ['40.4,-10.5;40.7,-15;37,-17.9;34.9,-20;35.5,-24;32.9,-26;32.2,-26.8;31.9,-25.9;31.3,-22.4;32.5,-21;32.9,-19;30.4,-15.6;33,-14;34.3,-15.8;35.2,-17;35.7,-14.8;34.6,-13.6;34.9,-11.6;37.5,-11.7'],
  'Zimbabwe': ['25.3,-17.8;27,-17.9;28.8,-16;30.4,-15.6;32.9,-19;32.5,-21;31.3,-22.4;29.4,-22.2;27.7,-21;26,-19'],
  'Botswana': ['20,-18.3;23.4,-17.6;25.3,-17.8;26,-19;27.7,-21;29.4,-22.2;26.7,-24.7;25.6,-25.7;23,-25.3;21.7,-26.8;20,-24.8'],
  'Namibia': ['11.8,-17.2;13.5,-17.4;18.4,-17.4;23.4,-17.6;20,-18.3;20,-24.8;20,-28.4;17.4,-28.7;16.5,-28.6;15,-26;14.5,-22'],
  'South Africa': ['16.5,-28.6;17.4,-28.7;20,-28.4;20,-24.8;21.7,-26.8;23,-25.3;25.6,-25.7;26.7,-24.7;29.4,-22.2;31.3,-22.4;31.9,-25.9;32.2,-26.8;32.9,-26;32.5,-28.5;30.5,-31;27,-34;25,-34;22,-34.2;20,-34.8;18.4,-34.2;18,-32'],
  'Lesotho': ['27,-29.6;28.6,-28.6;29.4,-29.5;28,-30.6'],
  'Eswatini': ['30.9,-26.3;31.9,-25.9;32.1,-27;31.2,-27.3'],
  'Madagascar': ['49.3,-12;50.5,-15.5;47.5,-24;46,-25.5;45,-25.5;43.3,-23;44.4,-19.5;44,-17;47,-15.3'],
  'Small islands': ['-24,16;-23.4,15;-23.7,15.2', '6.5,0.2;6.7,0.3;6.6,0', '43.3,-11.4;43.5,-11.9;43.2,-11.8', '57.4,-20.1;57.8,-20.3;57.5,-20.5', '55.2,-21;55.7,-21.1;55.4,-21.3', '55.4,-4.5;55.6,-4.6;55.5,-4.8']
};

// Robinson projection tables, every 5 degrees of latitude
const robinsonLen = [1, .9986, .9954, .99, .9822, .973, .96, .9427, .9216, .8962, .8679, .835, .7986, .7597, .7186, .6732, .6213, .5722, .5322];
const robinsonDrop = [0, .062, .124, .186, .248, .31, .372, .434, .4958, .5571, .6176, .6769, .7346, .7903, .8435, .8936, .9394, .9761, 1];
const mapCenterX = 657;
const mapEquatorY = 513;
const pxPerLonDegree = 4.22;
const pxPerDrop = 385;

function lookup(table, lat) {
    let a = Math.min(Math.abs(lat) / 5, 17.999);
    let i = Math.floor(a);
    return table[i] + (table[i + 1] - table[i]) * (a - i);
}
const robinson = {
    project: function (p) {
        let sign = p[1] < 0 ? -1 : 1;
        return [
            mapCenterX + p[0] * pxPerLonDegree * lookup(robinsonLen, p[1]),
            mapEquatorY - sign * pxPerDrop * lookup(robinsonDrop, p[1])
        ];
    },
    unproject: function (p) {
        let d = (mapEquatorY - p[1]) / pxPerDrop;
        let sign = d < 0 ? -1 : 1;
        let i = 0;
        while (i < 17 && robinsonDrop[i + 1] < Math.abs(d)) i++;
        let lat = sign * 5 * (i + (Math.abs(d) - robinsonDrop[i]) / (robinsonDrop[i + 1] - robinsonDrop[i]));
        return [(p[0] - mapCenterX) / pxPerLonDegree / lookup(robinsonLen, lat), lat];
    }
};

// build the geojson from the outlines
let features = [];
let minX = Infinity, minY = Infinity, maxX = -Infinity, maxY = -Infinity;
Object.keys(shapes).forEach(function (name) {
    let polys = shapes[name].map(function (polygon) {
        return polygon.split('|').map(function (ring) {
            let pts = ring.split(';').map(function (s) { return s.split(',').map(Number); });
            pts.push(pts[0]);
            pts.forEach(function (pt) {
                let xy = robinson.project(pt);
                minX = Math.min(minX, xy[0]); maxX = Math.max(maxX, xy[0]);
                minY = Math.min(minY, xy[1]); maxY = Math.max(maxY, xy[1]);
            });
            return pts;
        });
    });
    features.push({
        type: 'Feature',
        properties: { name: name },
        geometry: { type: 'MultiPolygon', coordinates: polys }
    });
});
echarts.registerMap('world', { type: 'FeatureCollection', features: features });

let seriesData = [];
[[americasNames, americasTonnes], [europeNames, europeTonnes], [asiaNames, asiaTonnes], [oceaniaNames, oceaniaTonnes], [africaNames, africaTonnes]].forEach(function (group) {
    group[0].forEach(function (name, i) {
        seriesData.push({ name: name, value: group[1][i] });
    });
});

const pieces = binColors.map(function (color, i) {
    return { gte: binEdges[i], lt: binEdges[i + 1], color: color };
});

// colour legend
const legendLeft = 278.5;
const legendRight = 1361;
const legendTop = 919;
const legendBottom = 938;
const legendFont = '21.9px "Liberation Sans", Arial, sans-serif';
const tickColor = '#a0a0a0';
const noDataColor = '#ececec';
let graphics = [];

function addText(text, x, y, font, fill, align) {
    graphics.push({
        type: 'text', silent: true,
        style: { text: text, x: x, y: y, font: font, fill: fill, align: align, verticalAlign: 'middle' }
    });
}
function addLine(x1, y1, x2, y2, color) {
    graphics.push({
        type: 'line', silent: true,
        shape: { x1: x1, y1: y1, x2: x2, y2: y2 },
        style: { stroke: color, lineWidth: 1 }
    });
}

let binWidth = (legendRight - legendLeft) / binColors.length;
graphics.push({
    type: 'rect', silent: true,
    shape: { x: 175.5, y: legendTop, width: 76, height: legendBottom - legendTop },
    style: { fill: noDataColor, stroke: '#b0b0b0', lineWidth: 0.8 }
});
addLine(213.5, 915, 213.5, legendTop, tickColor);
addText('No data', 213.5, 902.5, legendFont, '#222', 'center');

binColors.forEach(function (color, i) {
    graphics.push({
        type: 'rect', silent: true,
        shape: { x: legendLeft + i * binWidth, y: legendTop, width: binWidth, height: legendBottom - legendTop },
        style: { fill: color, stroke: '#9a9aa5', lineWidth: 0.6 }
    });
});
binLabels.forEach(function (label, i) {
    let x = legendLeft + i * binWidth;
    let upper = i % 2 === 0;
    addLine(x, upper ? 892 : 915, x, legendBottom, tickColor);
    addText(label, x, upper ? 879.5 : 902.5, legendFont, '#222', 'center');
});

// footer text
const footColor = '#858585';
addText('Source: UN Food and Agricultural Organization (FAO)', 27, 1001, '19.8px "Liberation Sans", Arial, sans-serif', footColor, 'left');
addText('OurWorldInData.org/meat-production \u2022 CC BY', 1503, 1001, '20.1px "Liberation Sans", Arial, sans-serif', footColor, 'right');
addText('Note: Beef and buffalo (cattle) meat production from both commercial and farm slaughter. Data are given in terms of dressed carcass weight, excluding offal and', 27, 1025, '20.06px "Liberation Sans", Arial, sans-serif', footColor, 'left');
addText('slaughter fats.', 27, 1048, '20.06px "Liberation Sans", Arial, sans-serif', footColor, 'left');

// logo
graphics.push({ type: 'rect', silent: true, shape: { x: 1399, y: 27, width: 109, height: 63 }, style: { fill: '#002147' } });
graphics.push({ type: 'rect', silent: true, shape: { x: 1399, y: 83.5, width: 109, height: 6.5 }, style: { fill: '#ce261e' } });
addText('Our World', 1453.5, 44.5, '22px Lato, sans-serif', '#fff', 'center');
addText('in Data', 1453.5, 68, '22px Lato, sans-serif', '#fff', 'center');

let chart = echarts.init(document.getElementById('main'), null, { renderer: 'canvas' });
chart.setOption({
    animation: false,
    backgroundColor: '#fff',
    title: {
        text: 'Beef production, 2018',
        left: 28, top: 27,
        padding: 0,
        textStyle: { fontFamily: '"Liberation Serif", Georgia, serif', fontWeight: 'normal', fontSize: 43, color: '#555' }
    },
    tooltip: { show: false },
    visualMap: { type: 'piecewise', show: false, seriesIndex: 0, pieces: pieces },
    series: [{
        type: 'map',
        map: 'world',
        projection: robinson,
        left: minX, top: minY,
        width: maxX - minX, height: maxY - minY,
        roam: false,
        silent: true,
        label: { show: false },
        itemStyle: { areaColor: noDataColor, borderColor: '#6f6f78', borderWidth: 0.7 },
        emphasis: { disabled: true },
        select: { disabled: true },
        data: seriesData
    }],
    graphic: graphics
});
</script>
</body>
</html>
